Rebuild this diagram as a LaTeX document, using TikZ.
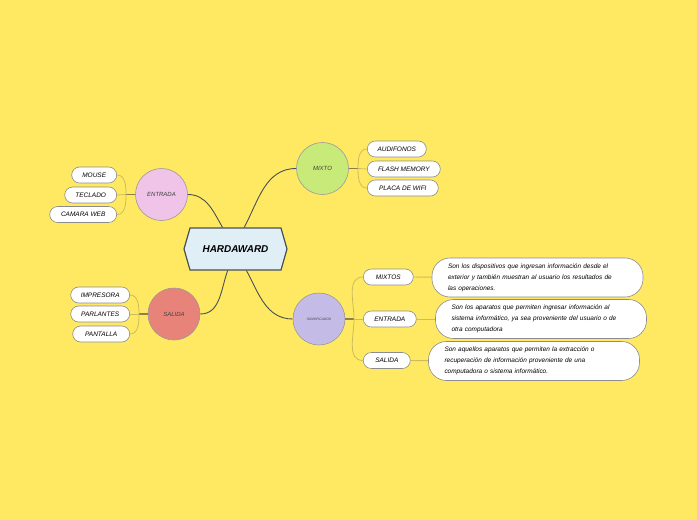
\documentclass[tikz,border=0pt]{standalone}
\usepackage{fontspec}
\setmainfont{Liberation Sans}
\usepackage{tikz}
\usetikzlibrary{shapes,arrows}

\definecolor{fondo}{RGB}{255,233,99}
\definecolor{celeste}{RGB}{224,238,245}
\definecolor{rosa}{RGB}{240,196,232}
\definecolor{verde}{RGB}{200,234,120}
\definecolor{salmon}{RGB}{232,131,122}
\definecolor{lila}{RGB}{196,188,230}
\definecolor{grisosc}{RGB}{72,80,84}
\definecolor{oliva}{RGB}{140,128,70}
\definecolor{ocre}{RGB}{205,188,90}

\begin{document}
\begin{tikzpicture}[
  tema/.style={signal,signal to=west and east,signal pointer angle=148,draw=grisosc,line width=1.2bp,fill=celeste,minimum width=103bp,minimum height=42bp,inner sep=0pt,font=\bfseries\itshape\fontsize{10}{12}\selectfont},
  circulo/.style={circle,draw=gray!80,line width=0.6bp,minimum size=52bp,inner sep=0pt,text=black!75,font=\itshape\fontsize{6}{7}\selectfont},
  hoja/.style={draw=gray!90,line width=0.6bp,fill=white,rounded corners=8bp,minimum height=16bp,inner sep=0pt,font=\itshape\fontsize{6.5}{8}\selectfont},
  nota/.style={draw=gray!90,line width=0.6bp,fill=white,rounded corners=18bp,minimum width=211bp,minimum height=39bp,inner xsep=16bp,inner ysep=0pt,text width=179bp,align=left,font=\itshape\fontsize{6.5}{11}\selectfont},
  rama/.style={line width=0.9bp,grisosc},
  tallo/.style={line width=1.3bp,oliva},
  ramita/.style={line width=0.8bp,ocre}
]

\fill[fondo] (0bp,0bp) rectangle (697bp,-520bp);
\useasboundingbox (0bp,0bp) rectangle (697bp,-520bp);

% centro
\node (hw) at (235.5bp,-249bp)[tema] {HARDAWARD};

% ideas principales
\node (ent) at (161.5bp,-194.5bp)[circulo,fill=rosa] {ENTRADA};
\node (mix) at (322.5bp,-168.5bp)[circulo,fill=verde] {MIXTO};
\node (sal) at (174bp,-314bp)[circulo,fill=salmon] {SALIDA};
\node (sig) at (319bp,-319bp)[circulo,fill=lila,font=\itshape\fontsize{3.4}{4}\selectfont] {SIGNIFICADOS};

\draw [rama] (hw.121) to[out=120,in=0] (ent.east);
\draw [rama] (hw.68) to[out=62,in=180] (mix.west);
\draw [rama] (hw.250) to[out=-110,in=0] (sal.east);
\draw [rama] (hw.297) to[out=-62,in=180] (sig.west);

% entrada
\node (mouse) at (117bp,-175bp)[hoja,anchor=east,minimum width=45bp] {MOUSE};
\node (teclado) at (117bp,-195bp)[hoja,anchor=east,minimum width=52bp] {TECLADO};
\node (camara) at (117bp,-214.5bp)[hoja,anchor=east,minimum width=67bp] {CAMARA WEB};
\coordinate (entj) at (126bp,-194.5bp);
\draw [tallo] (ent.west) to (entj);
\draw [ramita] (entj) to[out=90,in=0] (mouse.east);
\draw [ramita] (entj) to (teclado.east);
\draw [ramita] (entj) to[out=-90,in=0] (camara.east);

% salida
\node (impresora) at (130bp,-295bp)[hoja,anchor=east,minimum width=59bp] {IMPRESORA};
\node (parlantes) at (130bp,-314bp)[hoja,anchor=east,minimum width=59bp] {PARLANTES};
\node (pantalla) at (130bp,-334bp)[hoja,anchor=east,minimum width=57bp] {PANTALLA};
\coordinate (salj) at (139bp,-314bp);
\draw [tallo] (sal.west) to (salj);
\draw [ramita] (salj) to[out=90,in=0] (impresora.east);
\draw [ramita] (salj) to (parlantes.east);
\draw [ramita] (salj) to[out=-90,in=0] (pantalla.east);

% mixto
\node (audif) at (367bp,-149bp)[hoja,anchor=west,minimum width=59bp] {AUDIFONOS};
\node (flash) at (367bp,-169bp)[hoja,anchor=west,minimum width=73bp] {FLASH MEMORY};
\node (wifi) at (367bp,-188bp)[hoja,anchor=west,minimum width=71bp] {PLACA DE WIFI};
\coordinate (mixj) at (358bp,-168.5bp);
\draw [tallo] (mix.east) to (mixj);
\draw [ramita] (mixj) to[out=90,in=180] (audif.west);
\draw [ramita] (mixj) to (flash.west);
\draw [ramita] (mixj) to[out=-90,in=180] (wifi.west);

% significados
\node (smix) at (363bp,-277bp)[hoja,anchor=west,minimum width=50bp] {MIXTOS};
\node (sent) at (363bp,-319bp)[hoja,anchor=west,minimum width=53bp] {ENTRADA};
\node (ssal) at (363bp,-360.5bp)[hoja,anchor=west,minimum width=47bp] {SALIDA};
\coordinate (sigj) at (354bp,-319bp);
\draw [tallo] (sig.east) to (sigj);
\draw [ramita] (sigj) to[out=90,in=180] (smix.west);
\draw [ramita] (sigj) to (sent.west);
\draw [ramita] (sigj) to[out=-90,in=180] (ssal.west);

\node (dmix) at (537.5bp,-277.5bp)[nota] {Son los dispositivos que ingresan información desde el\\exterior y también muestran al usuario los resultados de\\las operaciones.};
\node (dent) at (541bp,-319bp)[nota] {Son los aparatos que permiten ingresar información al\\sistema informático, ya sea proveniente del usuario o de\\otra computadora};
\node (dsal) at (534bp,-361bp)[nota] {Son aquellos aparatos que permiten la extracción o\\recuperación de información proveniente de una\\computadora o sistema informático.};
\draw [ramita] (smix) to (dmix);
\draw [ramita] (sent) to (dent);
\draw [ramita] (ssal) to (dsal);
\end{tikzpicture}
\end{document}
